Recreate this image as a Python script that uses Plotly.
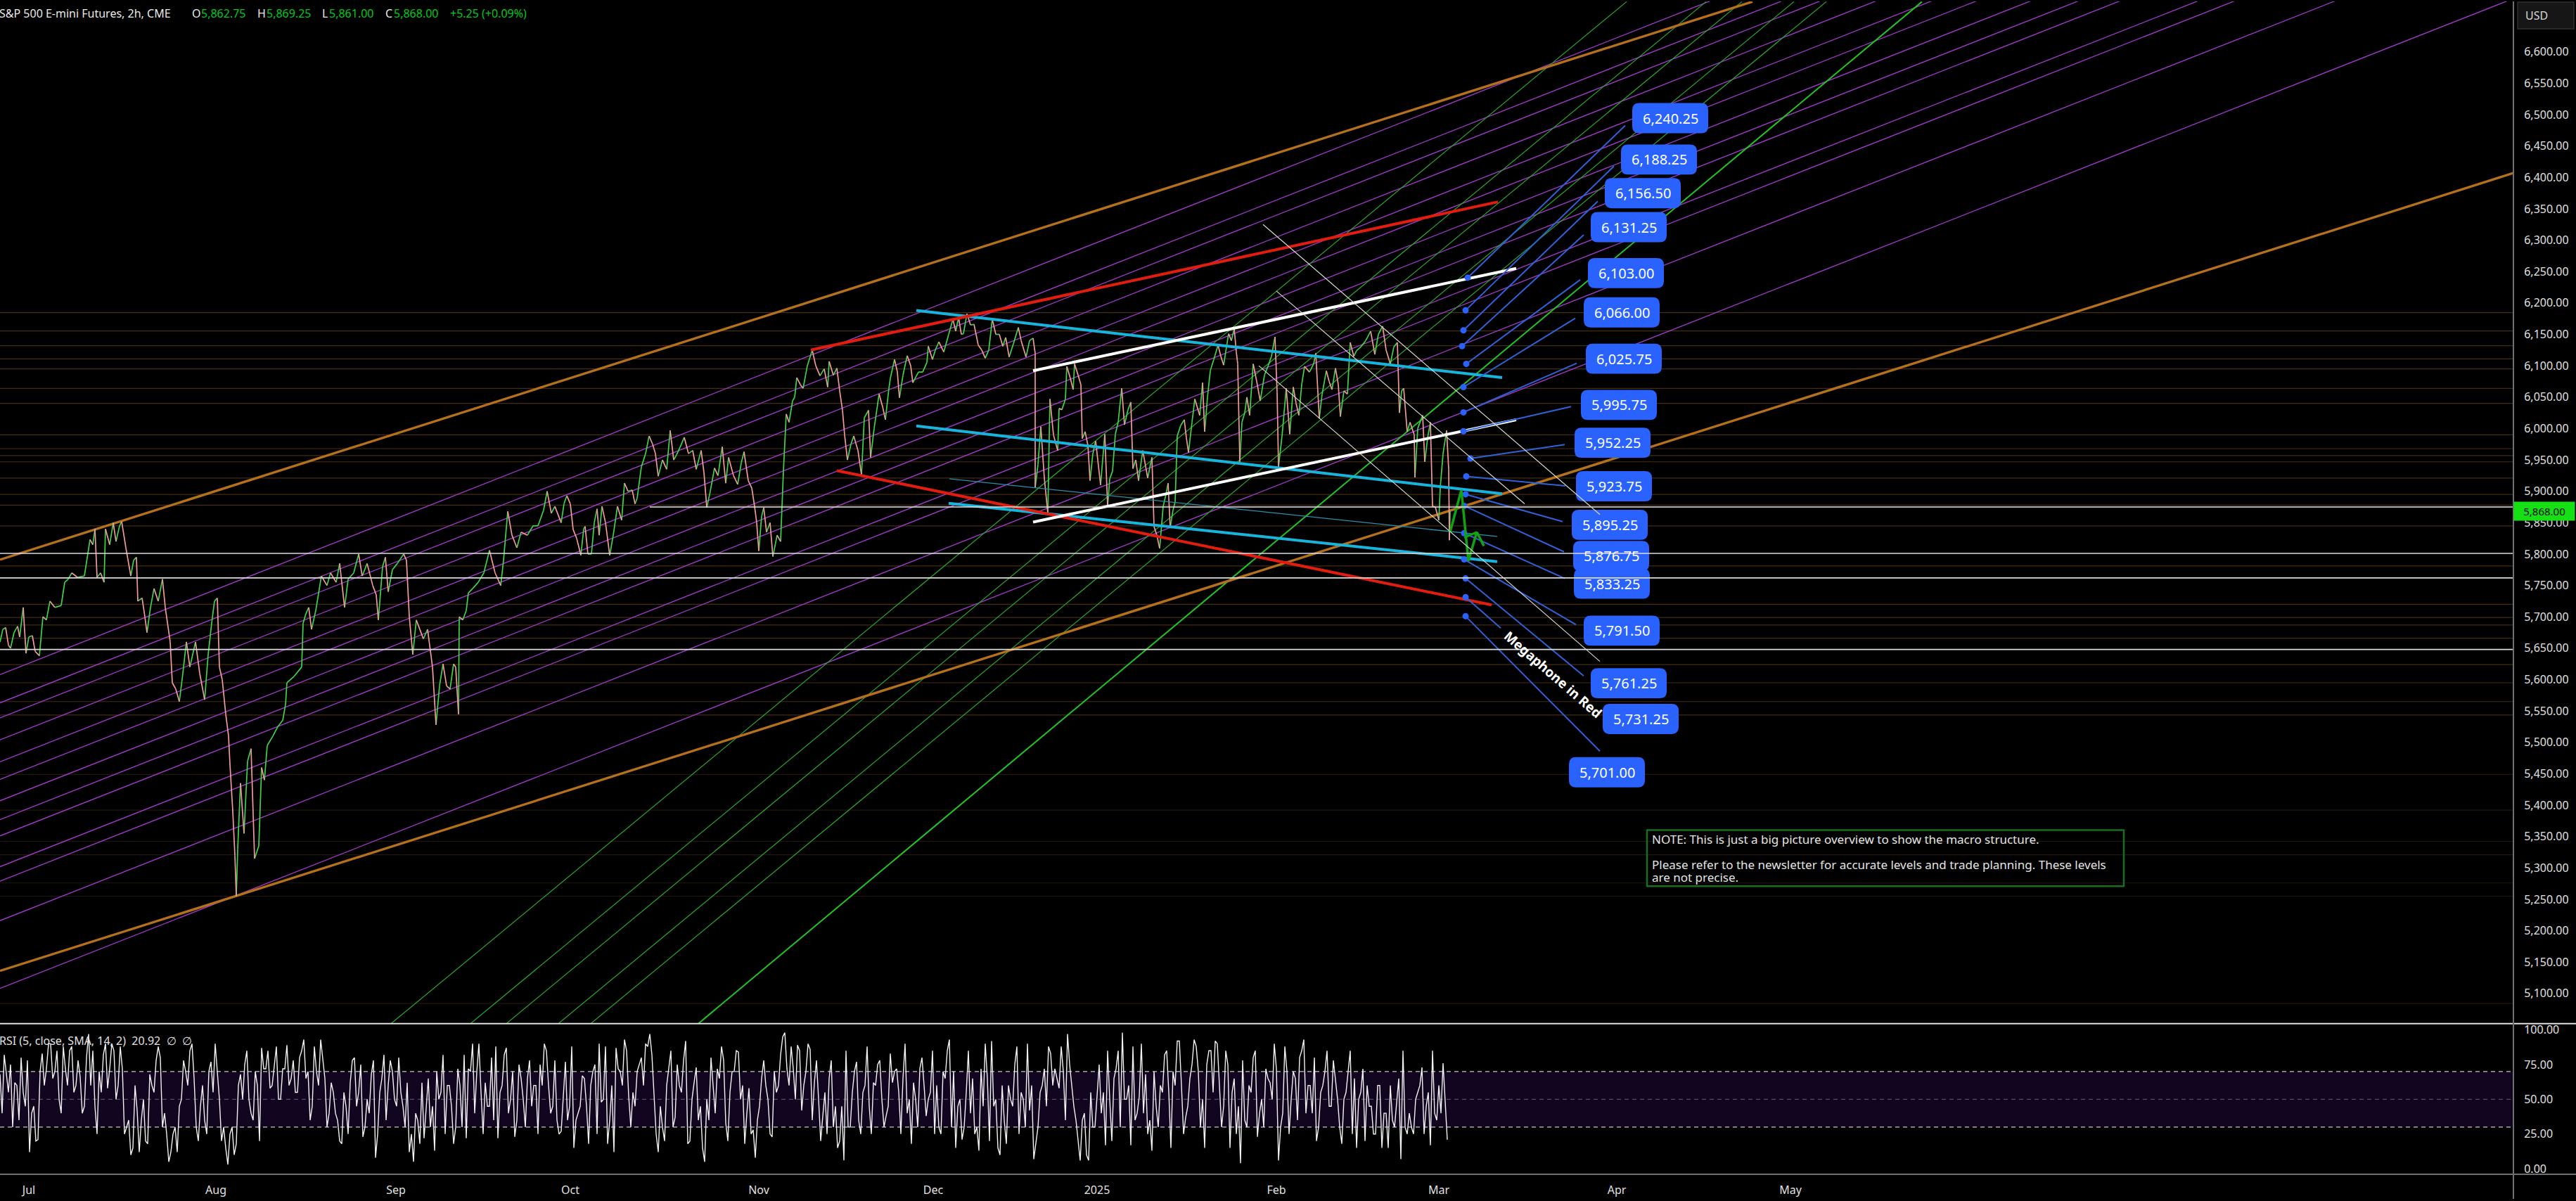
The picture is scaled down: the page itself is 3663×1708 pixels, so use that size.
import plotly.graph_objects as go

W = 3663
H = 1708
AXIS_X = 3574
FONT = "Noto Sans"

# x is the bar number on the chart, y is the price

month_pos = [41, 307, 563, 811, 1079, 1327, 1560, 1815, 2046, 2299, 2546]
month_names = ["Jul", "Aug", "Sep", "Oct", "Nov", "Dec", "2025", "Feb", "Mar", "Apr", "May"]
price_ticks = [5100 + 50 * i for i in range(31)]
rsi_ticks = [0, 25, 50, 75, 100]

# turning points of the price
price_x = [0,4,8,12,15,20,25,28,33,37,41,46,50,56,61,66,71,78,87,92,97,102,110,120,128,132,135,138,143,148,150,156,161,165,170,173,179,186,190,194,196,202,206,209,214,219,225,231,235,242,245,250,255,260,265,270,278,284,291,296,301,305,309,312,316,321,325,327,331,334,336,338,342,347,352,357,362,368,372,376,380,388,395,402,406,408,418,429,431,435,439,443,449,457,465,470,478,483,490,495,503,510,515,522,530,535,538,544,548,552,558,565,574,578,582,587,592,597,602,608,615,620,625,630,635,640,645,648,652,653,658,663,666,672,680,688,696,704,712,716,722,728,735,741,750,758,765,773,778,784,789,798,802,806,811,815,820,826,830,832,836,841,845,849,852,856,861,867,872,878,884,888,893,899,903,906,912,918,923,928,932,936,942,948,953,958,962,967,973,979,985,990,997,1001,1005,1010,1016,1021,1027,1032,1036,1043,1049,1054,1058,1064,1069,1073,1076,1079,1083,1086,1090,1095,1099,1105,1110,1114,1118,1122,1127,1130,1133,1138,1142,1148,1155,1160,1166,1172,1177,1179,1185,1190,1194,1198,1201,1205,1210,1214,1220,1225,1229,1235,1238,1243,1250,1255,1259,1264,1266,1272,1276,1279,1284,1290,1295,1298,1306,1312,1318,1320,1326,1330,1335,1342,1349,1355,1359,1363,1367,1370,1375,1380,1385,1391,1396,1401,1406,1411,1416,1421,1426,1430,1435,1441,1448,1452,1459,1464,1469,1472,1472,1476,1480,1485,1490,1493,1498,1504,1506,1510,1515,1517,1522,1526,1528,1533,1537,1539,1543,1547,1550,1554,1558,1562,1565,1571,1575,1578,1582,1586,1590,1595,1599,1604,1608,1611,1615,1619,1625,1632,1638,1641,1645,1649,1654,1658,1661,1664,1668,1671,1674,1679,1684,1687,1690,1695,1699,1706,1710,1713,1717,1721,1726,1732,1736,1740,1747,1751,1755,1758,1760,1763,1766,1770,1773,1777,1782,1787,1792,1798,1803,1808,1813,1816,1818,1823,1829,1834,1839,1843,1847,1851,1855,1862,1868,1871,1876,1880,1886,1890,1894,1899,1903,1906,1911,1916,1920,1925,1929,1935,1942,1949,1955,1960,1966,1971,1977,1982,1987,1990,1993,1996,2001,2005,2011,2012,2016,2023,2026,2030,2034,2037,2041,2046,2048,2052,2057,2060,2061,2062]
price_val = [5660,5680,5683,5655,5650,5675,5685,5668,5715,5642,5668,5670,5645,5638,5700,5695,5725,5715,5718,5755,5760,5770,5763,5765,5823,5815,5840,5763,5770,5755,5840,5815,5850,5820,5845,5852,5810,5765,5790,5795,5725,5730,5700,5675,5715,5745,5725,5760,5715,5660,5595,5585,5565,5610,5660,5620,5660,5610,5568,5640,5690,5725,5730,5620,5600,5545,5510,5465,5390,5320,5255,5330,5435,5355,5470,5490,5315,5335,5460,5440,5495,5510,5525,5535,5560,5595,5605,5620,5690,5705,5715,5680,5710,5765,5750,5770,5755,5785,5715,5760,5770,5800,5765,5785,5750,5735,5695,5780,5795,5740,5775,5785,5800,5790,5700,5640,5695,5680,5665,5680,5620,5528,5590,5625,5590,5585,5625,5620,5545,5700,5695,5710,5738,5745,5755,5770,5806,5770,5750,5790,5868,5830,5810,5835,5830,5845,5845,5870,5900,5865,5876,5850,5880,5893,5880,5839,5825,5798,5840,5844,5800,5800,5850,5872,5830,5876,5850,5798,5830,5876,5854,5913,5900,5902,5880,5889,5939,5960,5988,5975,5960,5924,5950,5935,5997,5950,5958,5970,5986,5960,5965,5935,5965,5930,5874,5900,5937,5925,5971,5913,5954,5925,5911,5945,5963,5917,5905,5876,5850,5805,5860,5874,5835,5850,5796,5830,5820,5932,6023,6010,6044,6050,6081,6070,6064,6100,6125,6100,6084,6095,6066,6107,6085,6096,6060,6029,5990,5950,5975,5988,5965,5926,6017,6029,5954,6000,6055,6035,6014,6064,6080,6110,6090,6049,6085,6116,6100,6073,6090,6090,6105,6131,6110,6125,6138,6122,6150,6174,6155,6177,6150,6151,6183,6165,6166,6133,6125,6112,6125,6174,6150,6150,6131,6145,6114,6135,6161,6140,6114,6140,6144,6120,5906,5943,6003,5921,5865,6047,5990,5965,6032,6030,6047,6099,6080,6062,6103,6085,6070,5984,5995,5973,5917,5960,5980,5940,5910,5991,5876,5920,5932,5991,6010,6064,6006,6030,6042,5936,5950,5917,5965,5921,5954,5844,5830,5809,5876,5895,5913,5842,5870,5883,5988,6005,6014,5985,5962,6010,6047,6021,6073,5995,6050,6092,6110,6133,6115,6101,6151,6140,6159,6122,6103,5947,6010,6025,6050,6021,6103,6075,6044,6085,6099,6115,6146,6058,5939,5988,6064,5991,6066,6040,6021,6070,6099,6090,6103,6120,6016,6055,6092,6075,6062,6096,6070,6019,6060,6055,6137,6115,6124,6130,6140,6155,6118,6150,6163,6125,6103,6130,6137,6025,6060,6064,5995,6010,5990,5922,6000,6021,5947,5985,6010,5876,5875,5854,5906,5960,5997,5935,5822,5868]

# RSI, one reading every 6 bars plus the reading between them
rsi_val = [68,82,55,30,60,80,45,12,45,21,83,72,90,70,50,88,60,88,60,66,45,97,85,25,55,90,72,85,60,72,30,10,60,12,50,18,60,78,80,40,5,25,12,50,70,85,65,20,60,25,77,90,50,30,3,30,18,68,75,50,35,60,
	87,72,58,75,50,72,89,65,55,80,93,70,45,70,93,65,40,55,35,18,45,62,80,55,23,50,68,8,55,82,60,70,45,55,30,12,5,35,62,45,30,13,50,82,60,45,30,60,82,72,90,70,55,62,45,35,22,60,87,50,23,75,50,65,45,60,75,90,60,45,35,27,77,45,15,40,67,45,60,75,90,50,18,60,87,70,93,52,
	55,70,80,90,97,50,12,30,60,85,37,60,78,18,50,73,45,5,35,60,72,88,33,55,70,84,60,40,25,8,45,78,50,23,55,82,98,60,72,89,42,70,86,62,50,38,25,78,45,20,6,30,55,77,25,60,45,62,75,50,38,83,70,55,65,40,18,50,72,60,50,85,60,25,65,93,70,45,21,55,40,25,13,45,65,92,50,10,35,60,45,88,55,30,42,7,30,60,45,83,72,58,70,97,60,35,6,40,6,30,55,40,17,50,65,85,98,50,17,35,52,40,25,13,45,60,82,55,70,92,60,37,65,93,70,50,75,85,92,60,45,75,55,25,4,35,60,80,23,50,72,62,90,6,40,70,50,65,80,93,60,40,20,55,70,45,78,50,18,55,85,65,50,72,60,45,25,60,40,15,35,50,7,30,40,25,55,73,45,17,40,60,76,20.92]
rsi_mid = [40,70,75,62,35,55,78,40,20,70,60,90,65,85,40,72,85,55,78,40,80,60,45,70,82,58,90,50,88,25,35,15,42,35,20,68,55,88,30,25,12,30,45,78,60,90,30,45,35,70,
	55,70,20,15,25,10,60,50,85,40,70,20,72,85,60,88,50,72,60,78,55,85,65,35,88,60,80,30,62,40,20,55,25,78,45,75,30,40,78,25,65,35,78,50,80,45,62,25,40,18,
	22,65,45,70,55,25,60,18,72,30,22,70,40,90,25,45,80,88,55,82,40,70,35,65,30,78,60,25,60,85,40,78,25,55,35,88,35,45,65,18,70,25,48,88,35,12,72,60,85,30,
	45,75,60,88,82,25,45,20,72,30,75,55,92,20,62,35,15,50,80,40,65,78,20,70,85,50,18,58,28,35,65,60,25,70,60,95,72,88,50,85,60,90,35,78,20,55,65,30,15,45,
	85,30,70,35,55,88,25,60,78,30,45,62,72,25,90,50,62,30,80,38,55,25,30,70,85,30,15,50,30,85,65,30,72,90,20,45,15,60,18,50,75,25,50,90,60,20,55,72,88,60,
	65,88,35,75,45,20,35,10,55,30,75,55,85,20,72,30,50,60,88,40,90,68,35,70,30,55,85,15,60,92,25,45,75,88,30,15,85,55,90,30,85,15,65,45,78,30,55,85,40,30,
	65,50,72,30,88,25,70,35,85,40,60,80,30,60,85,45,65,30,50,70,25,15,55,20,45,25,60,15,40,60,30,65,85,25,30,50,60,25,55,85,35,40,45]
rsi_x = []
rsi_y = []
for i, (v, m) in enumerate(zip(rsi_val[:-1], rsi_mid)):
	rsi_x += [6 * i, 6 * i + 3]
	rsi_y += [v, m]
rsi_x.append(rsi_x[-2] + 6)
rsi_y.append(rsi_val[-1])

# faint support / resistance levels
level_lines = [6184.5,6155.5,6132,6111,6095,6064,6040,5990,5968,5957,5947,5921,5895,5878,5845,5781,5720,5699,5687,5666,5624,5595,5565,5543.5,5449,5392,5342.4,5321,5276,5255,5084]
white_levels = [5801, 5762, 5648]
partial_white_level = 5875

# long sloped lines: price at bar 0 and at the right edge
orange_p0 = [5791, 5136]
orange_x1 = [2492, 3574]
orange_p1 = [6680, 6407]
purple_p0 = [5608,5563,5539,5504,5469,5441,5407,5377,5351,5302,5279,5216,5108]
purple_p1 = [7185,7140,7116,7081,7046,7018,6984,6954,6928,6879,6856,6793,6685]
green_x0 = [556, 669, 720, 794, 840]
green_x1 = [2313, 2426, 2477, 2551, 2597]
bright_green_x = [993, 2733]
green_ends = [5052, 6680]

# drawn segments: bar0, price0, bar1, price1
red_lines = [(1153, 6125, 2130, 6361), (1190, 5933, 2121, 5719)]
cyan_lines = [(1303, 6188, 2136, 6081), (1303, 6004, 2136, 5896), (1349, 5881, 2129, 5788)]
thin_cyan = (1350, 5920, 2129, 5828)
white_lines = [(1469, 6092, 2156, 6255), (1469, 5851, 2156, 6014)]
diag_lines = [(1796, 6325, 2275, 5863), (1815, 6219, 2168, 5880), (1790, 6100, 2275, 5629)]
proj_x = [2062, 2078, 2088, 2100, 2110]
proj_p = [5835, 5902, 5789, 5835, 5813]
proj2_x = [2082, 2100]
proj2_p = [5826, 5835]

# blue price labels
label_vals = [6240.25,6188.25,6156.50,6131.25,6103.00,6066.00,6025.75,5995.75,5952.25,5923.75,5895.25,5876.75,5833.25,5791.50,5761.25,5731.25,5701.00]
dot_x = [2087,2084,2081,2079,2085,2081,2081,2081,2091,2085,2084,2082,2082,2082,2084,2084,2084]
end_x = [2311,2295,2272,2252,2247,2240,2242,2234,2225,2226,2222,2224,2225,2241,2252,2134,2275]
end_p = [6482.7,6418,6362,6308.5,6237,6175.6,6104,6034.8,5974.5,5908.6,5851.7,5803.6,5761.2,5687.5,5606,5682,5486]
box_x = [2375,2359,2336,2316,2312,2306,2309,2302,2293,2295,2289,2291,2292,2306,2316,2333,2285]
box_p = [6494.4,6428.5,6374.9,6320.8,6247.6,6185,6111.3,6037.6,5977.3,5908,5846.6,5797,5752.8,5678,5594.2,5537.3,5452.4]

title_parts = [("S&P 500 E-mini Futures, 2h, CME", "#e8e8e8"), ("O", "#e8e8e8"), ("5,862.75", "#00c81e"), ("H", "#e8e8e8"), ("5,869.25", "#00c81e"), ("L", "#e8e8e8"), ("5,861.00", "#00c81e"), ("C", "#e8e8e8"), ("5,868.00", "#00c81e"), ("+5.25 (+0.09%)", "#00c81e")]
title_x = [-3, 271, 284, 364, 377, 456, 466, 546, 558, 638]
note_lines = ["NOTE: This is just a big picture overview to show the macro structure.", "Please refer to the newsletter for accurate levels and trade planning. These levels", "are not precise."]
note_y = [1195, 1231, 1249]


def py(px):
	return 1 - px / H

def rounded_box(cx, cp, half_w=54, half_h=24, rx=10, ry=11):
	x0, x1 = cx - half_w, cx + half_w
	y0, y1 = cp - half_h, cp + half_h
	return (f"M {x0+rx},{y0} L {x1-rx},{y0} Q {x1},{y0} {x1},{y0+ry} L {x1},{y1-ry} Q {x1},{y1} {x1-rx},{y1} "
		f"L {x0+rx},{y1} Q {x0},{y1} {x0},{y1-ry} L {x0},{y0+ry} Q {x0},{y0} {x0+rx},{y0} Z")

def add_segments(fig, segs, color, width):
	xs, ys = [], []
	for x0, p0, x1, p1 in segs:
		xs += [x0, x1, None]
		ys += [p0, p1, None]
	fig.add_trace(go.Scatter(x=xs, y=ys, mode="lines", line=dict(color=color, width=width), hoverinfo="skip", showlegend=False))


fig = go.Figure()

# sloped channels
add_segments(fig, [(0, p0, AXIS_X, p1) for p0, p1 in zip(purple_p0, purple_p1)], "#a63ad0", 1.3)
add_segments(fig, [(x0, green_ends[0], x1, green_ends[1]) for x0, x1 in zip(green_x0, green_x1)], "#2aa82a", 1.2)
add_segments(fig, [(bright_green_x[0], green_ends[0], bright_green_x[1], green_ends[1])], "#22c422", 2)
add_segments(fig, [(0, p0, x1, p1) for p0, x1, p1 in zip(orange_p0, orange_x1, orange_p1)], "#b5701c", 3.4)

# price, split by direction
up_x, up_y, down_x, down_y = [], [], [], []
for i in range(1, len(price_x)):
	if price_val[i] >= price_val[i - 1]:
		up_x += [price_x[i - 1], price_x[i], None]
		up_y += [price_val[i - 1], price_val[i], None]
	else:
		down_x += [price_x[i - 1], price_x[i], None]
		down_y += [price_val[i - 1], price_val[i], None]
fig.add_trace(go.Scatter(x=up_x, y=up_y, mode="lines", line=dict(color="#3fd24a", width=1.7), hoverinfo="skip", showlegend=False))
fig.add_trace(go.Scatter(x=down_x, y=down_y, mode="lines", line=dict(color="#f09a9a", width=1.7), hoverinfo="skip", showlegend=False))

add_segments(fig, [thin_cyan], "#2a8fae", 1.3)
add_segments(fig, cyan_lines, "#18b4dc", 4)
add_segments(fig, red_lines, "#e31c10", 4)
add_segments(fig, white_lines, "#ffffff", 4)

# connectors from each dot to its label
add_segments(fig, [(x0, v, x1, p) for x0, v, x1, p in zip(dot_x, label_vals, end_x, end_p)], "#2f62d8", 2)
fig.add_trace(go.Scatter(x=dot_x, y=label_vals, mode="markers", marker=dict(color="#2962ff", size=9), hoverinfo="skip", showlegend=False))

fig.add_trace(go.Scatter(x=proj_x, y=proj_p, mode="lines", line=dict(color="#12a312", width=3.5), hoverinfo="skip", showlegend=False))
fig.add_trace(go.Scatter(x=proj2_x, y=proj2_p, mode="lines", line=dict(color="#12a312", width=3), hoverinfo="skip", showlegend=False))

# RSI pane
fig.add_trace(go.Scatter(x=rsi_x, y=rsi_y, xaxis="x2", yaxis="y2", mode="lines", line=dict(color="#f2f2f2", width=1.4), hoverinfo="skip", showlegend=False))

shapes = []
for p in level_lines:
	color = "rgba(150,100,40,0.45)" if p > 5500 else "rgba(130,85,35,0.28)"
	shapes.append(dict(type="line", xref="x", yref="y", x0=0, x1=AXIS_X, y0=p, y1=p, line=dict(color=color, width=1.2), layer="below"))
shapes.append(dict(type="rect", xref="x2", yref="y2", x0=0, x1=AXIS_X, y0=30, y1=70, fillcolor="#12051f", line_width=0, layer="below"))
shapes.append(dict(type="line", xref="x2", yref="y2", x0=0, x1=AXIS_X, y0=70, y1=70, line=dict(color="#c8c8c8", width=1.2, dash="6px,5px"), layer="below"))
shapes.append(dict(type="line", xref="x2", yref="y2", x0=0, x1=AXIS_X, y0=30, y1=30, line=dict(color="#c8c8c8", width=1.2, dash="6px,5px"), layer="below"))
shapes.append(dict(type="line", xref="x2", yref="y2", x0=0, x1=AXIS_X, y0=50, y1=50, line=dict(color="#5a4a6a", width=1.2, dash="6px,5px"), layer="below"))

for cx, cp in zip(box_x, box_p):
	shapes.append(dict(type="path", xref="x", yref="y", path=rounded_box(cx, cp), fillcolor="#2962ff", line_width=0))
for p in white_levels:
	shapes.append(dict(type="line", xref="x", yref="y", x0=0, x1=AXIS_X, y0=p, y1=p, line=dict(color="#dcdcdc", width=1.6)))
shapes.append(dict(type="line", xref="x", yref="y", x0=924, x1=AXIS_X, y0=partial_white_level, y1=partial_white_level, line=dict(color="#e8e8e8", width=1.6)))
for x0, p0, x1, p1 in diag_lines:
	shapes.append(dict(type="line", xref="x", yref="y", x0=x0, x1=x1, y0=p0, y1=p1, line=dict(color="#d8d8d0", width=1.2)))

# pane borders and the USD button
shapes.append(dict(type="line", xref="paper", yref="paper", x0=0, x1=1, y0=py(1458), y1=py(1458), line=dict(color="#e0e0e0", width=2)))
shapes.append(dict(type="line", xref="paper", yref="paper", x0=0, x1=1, y0=py(1673), y1=py(1673), line=dict(color="#707070", width=2)))
shapes.append(dict(type="line", xref="paper", yref="paper", x0=AXIS_X / W, x1=AXIS_X / W, y0=0, y1=1, line=dict(color="#707070", width=2)))
shapes.append(dict(type="rect", xref="paper", yref="paper", x0=3580 / W, x1=3660 / W, y0=py(39), y1=py(1), fillcolor="#161616", line=dict(color="#303030", width=1.5)))
# note frame
shapes.append(dict(type="rect", xref="paper", yref="paper", x0=2342 / W, x1=3020 / W, y0=py(1262), y1=py(1182), line=dict(color="#1a6e1f", width=2.5)))

annotations = []
for (text, color), x in zip(title_parts, title_x):
	annotations.append(dict(xref="paper", yref="paper", x=x / W, y=py(17), text=text, showarrow=False, xanchor="left", yanchor="middle", font=dict(family=FONT, size=16, color=color)))
annotations.append(dict(xref="paper", yref="paper", x=-3 / W, y=py(1482), text="RSI (5, close, SMA, 14, 2)&nbsp;&nbsp;20.92&nbsp;&nbsp;∅&nbsp;&nbsp;∅", showarrow=False, xanchor="left", yanchor="middle", font=dict(family=FONT, size=16, color="#e0e0e0")))
for v, cx, cp in zip(label_vals, box_x, box_p):
	annotations.append(dict(xref="x", yref="y", x=cx, y=cp, text=f"{v:,.2f}", showarrow=False, xanchor="center", yanchor="middle", font=dict(family=FONT, size=20, color="#ffffff")))
annotations.append(dict(xref="x", yref="y", x=2208, y=5608, text="<b>Megaphone in Red</b>", textangle=41, showarrow=False, xanchor="center", yanchor="middle", font=dict(family=FONT, size=19, color="#ffffff")))
for line, y in zip(note_lines, note_y):
	annotations.append(dict(xref="paper", yref="paper", x=2347 / W, y=py(y), text=line, showarrow=False, xanchor="left", yanchor="middle", font=dict(family=FONT, size=17, color="#e4e4e4")))
annotations.append(dict(xref="paper", yref="paper", x=3607 / W, y=py(20), text="USD", showarrow=False, xanchor="center", yanchor="middle", font=dict(family=FONT, size=16, color="#d8d8d8")))
annotations.append(dict(xref="paper", yref="y", x=3618 / W, y=5868, text="5,868.00", showarrow=False, xanchor="center", yanchor="middle", bgcolor="#14e014", width=84, height=24, font=dict(family=FONT, size=15, color="#000000")))

fig.update_layout(
	width=W,
	height=H,
	margin=dict(l=0, r=0, t=0, b=0),
	paper_bgcolor="#000000",
	plot_bgcolor="#000000",
	showlegend=False,
	shapes=shapes,
	annotations=annotations,
	xaxis=dict(domain=[0, AXIS_X / W], range=[0, AXIS_X], showgrid=False, zeroline=False, showticklabels=False, anchor="y", fixedrange=True),
	xaxis2=dict(domain=[0, AXIS_X / W], range=[0, AXIS_X], showgrid=False, zeroline=False, anchor="y2", tickmode="array", tickvals=month_pos, ticktext=month_names, ticks="outside", ticklen=8, tickcolor="#000000", tickfont=dict(family=FONT, size=16, color="#e0e0e0"), fixedrange=True),
	yaxis=dict(domain=[py(1458), 1], range=[5052, 6680.4], side="right", showgrid=False, zeroline=False, anchor="x", tickmode="array", tickvals=price_ticks, ticktext=[f"{v:,.2f}" for v in price_ticks], ticks="outside", ticklen=11, tickcolor="#000000", tickfont=dict(family=FONT, size=16, color="#e0e0e0"), fixedrange=True),
	yaxis2=dict(domain=[py(1673), py(1458)], range=[-4, 104.5], side="right", showgrid=False, zeroline=False, anchor="x2", tickmode="array", tickvals=rsi_ticks, ticktext=[f"{v:.2f}" for v in rsi_ticks], ticks="outside", ticklen=11, tickcolor="#000000", tickfont=dict(family=FONT, size=16, color="#e0e0e0"), fixedrange=True),
)

fig.write_html("out.html", post_script="document.body.style.margin='0';document.body.style.background='#000';", config=dict(displayModeBar=False))
